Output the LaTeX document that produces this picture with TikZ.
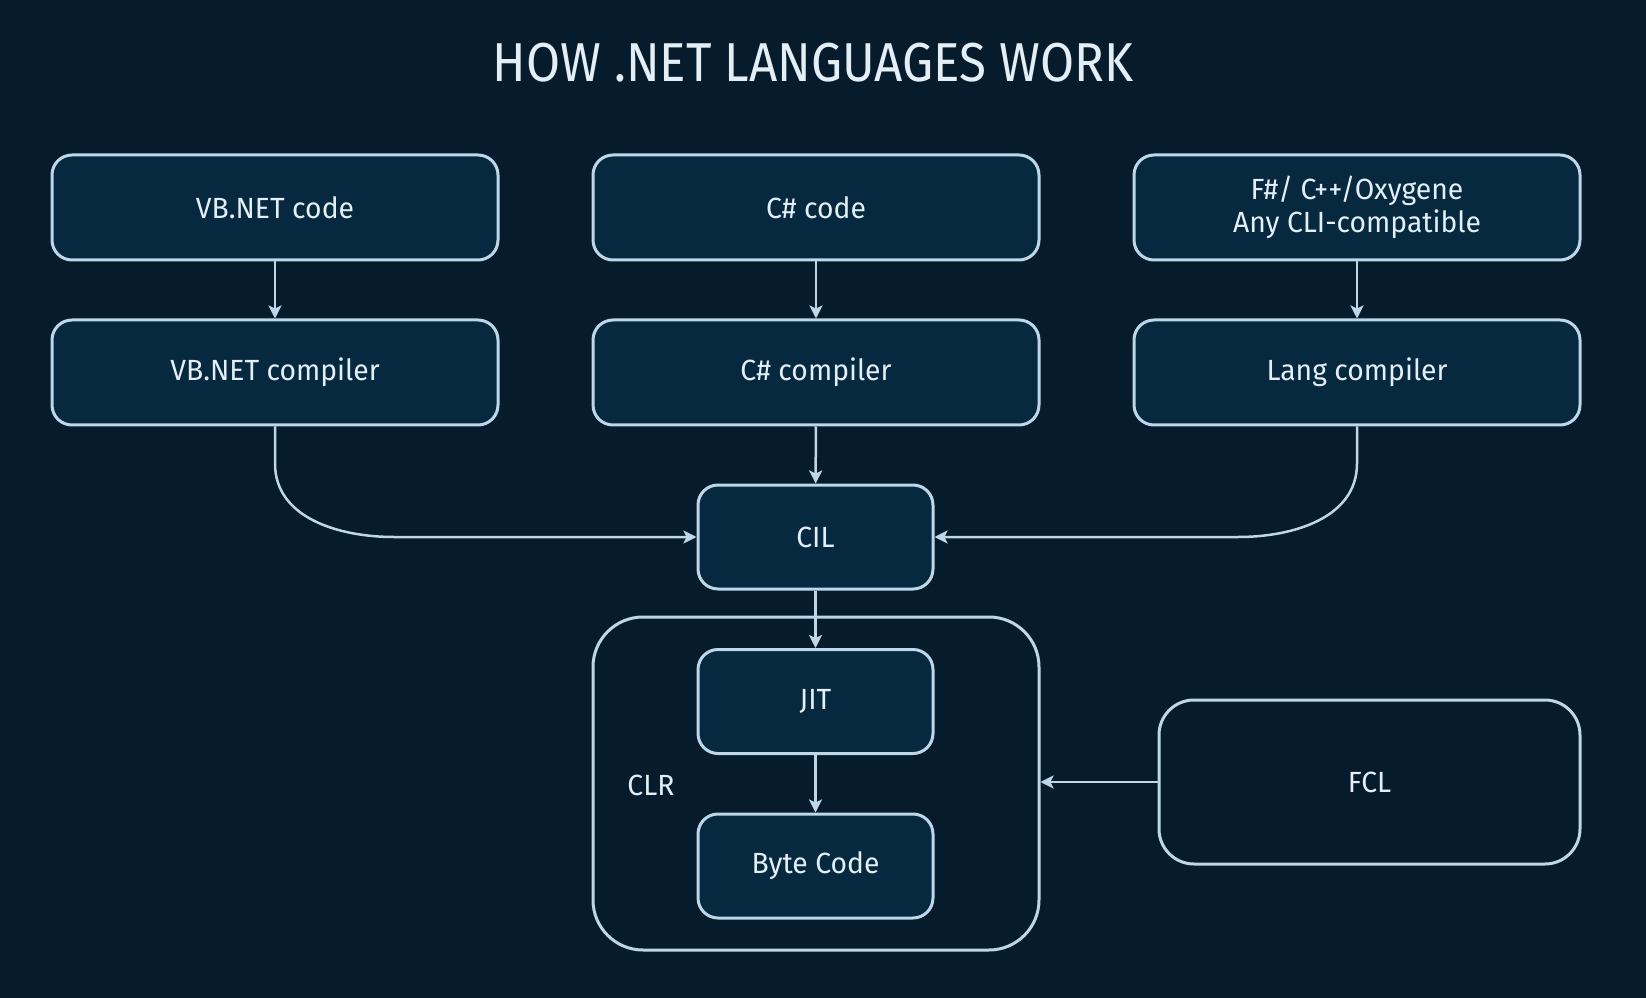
\documentclass[tikz,border=0pt]{standalone}
\usepackage{fontspec}
\setmainfont[FakeStretch=0.97]{Fira Sans}
\newfontfamily\titlefont[FakeStretch=0.9]{Fira Sans}
\usepackage{tikz}
\usetikzlibrary{arrows.meta,calc}

\definecolor{bgnavy}{HTML}{061B2B}
\definecolor{boxfill}{HTML}{06293F}
\definecolor{edge}{HTML}{BCD7EA}
\definecolor{txt}{HTML}{E4EEF6}

\begin{document}
\begin{tikzpicture}[x=0.1mm, y=-0.1mm,
    box/.style={draw=edge, line width=0.3mm, fill=boxfill, rounded corners=2mm,
        text=txt, align=center, inner sep=0pt, font=\fontsize{8.3}{9.4}\selectfont},
    widebox/.style={box, minimum width=44.6mm, minimum height=10.5mm},
    smallbox/.style={box, minimum width=23.5mm, minimum height=10.4mm},
    arr/.style={draw=edge, line width=0.25mm, -{Stealth[length=1.3mm,width=1.3mm,inset=0.3mm]}},
    ]
\fill[bgnavy] (0,0) rectangle (1646,998);

\node[anchor=base, text=txt, font=\titlefont\fontsize{15.6}{18}\selectfont] (title) at (813,82) {HOW .NET LANGUAGES WORK};

% sources
\node[widebox] (vbcode) at (275,207.5) {VB.NET code};
\node[widebox] (cscode) at (816,207.5) {C\# code};
\node[widebox] (fscode) at (1357,207.5) {F\#/ C++/Oxygene\\Any CLI-compatible};

% compilers
\node[widebox] (vbcomp) at (275,372.5) {VB.NET compiler};
\node[widebox] (cscomp) at (816,372.5) {C\# compiler};
\node[widebox] (langcomp) at (1357,372.5) {Lang compiler};

\node[smallbox] (cil) at (815.5,537) {CIL};

% runtime
\node[draw=edge, line width=0.3mm, rounded corners=5mm, minimum width=44.6mm, minimum height=33.3mm] (clr) at (816,783.5) {};
\node[text=txt, font=\fontsize{8.3}{9.4}\selectfont] (clrlabel) at (651,785) {CLR};
\node[smallbox] (jit) at (815.5,701.5) {JIT};
\node[smallbox] (bytecode) at (815.5,866) {Byte Code};
\node[box, fill=none, rounded corners=3.5mm, minimum width=42.1mm, minimum height=16.4mm] (fcl) at (1369.5,782) {FCL};

\draw[arr] (vbcode) -- (vbcomp);
\draw[arr] (cscode) -- (cscomp);
\draw[arr] (fscode) -- (langcomp);
\draw[arr] (cscomp) -- (cil);
\draw[arr] (vbcomp.south) -- ++(0,37) to[out=-90,in=180] ($(vbcomp.south |- cil.west)+(119,0)$) -- (cil.west);
\draw[arr] (langcomp.south) -- ++(0,37) to[out=-90,in=0] ($(langcomp.south |- cil.east)+(-119,0)$) -- (cil.east);
\draw[arr] (cil) -- (jit);
\draw[arr] (jit) -- (bytecode);
\draw[arr] (fcl.west) -- (clr.east |- fcl.west);

\end{tikzpicture}
\end{document}
